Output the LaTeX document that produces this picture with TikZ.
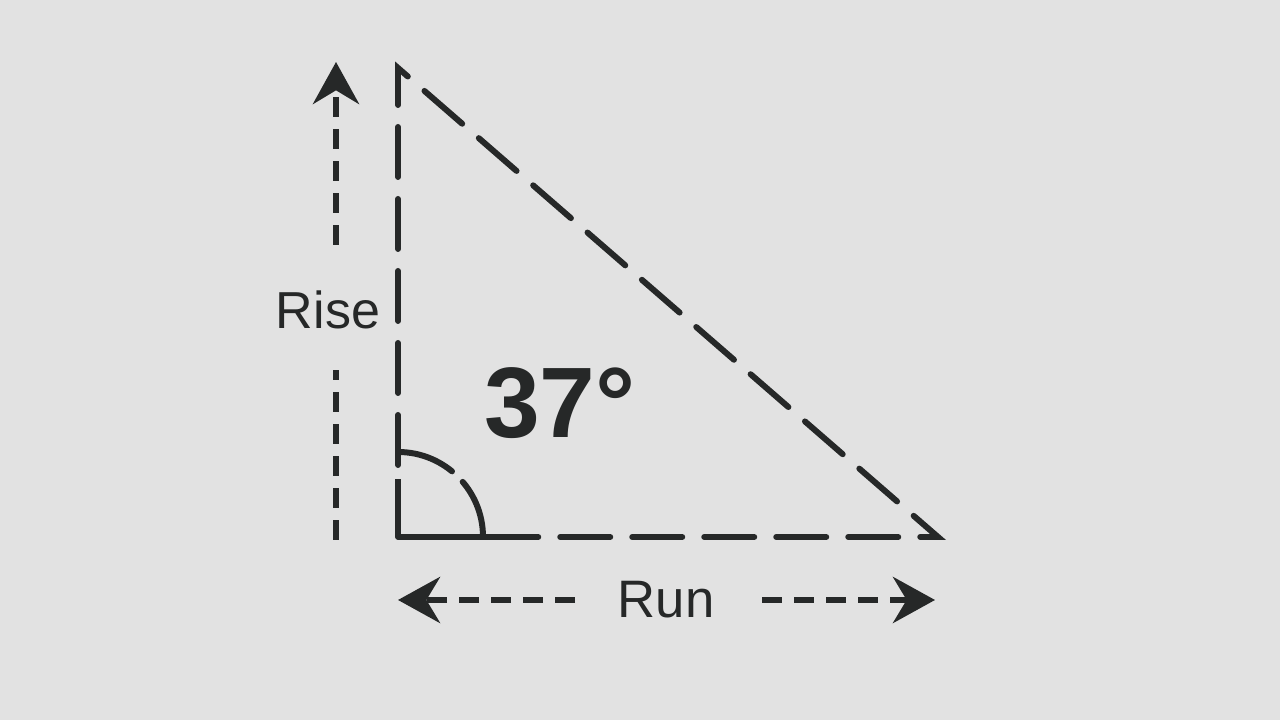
\documentclass[tikz,border=0pt]{standalone}
\usepackage{fontspec}
\setmainfont{Liberation Sans}
\usetikzlibrary{arrows.meta,positioning,calc}

\definecolor{paper}{HTML}{E2E2E2}
\definecolor{ink}{HTML}{262828}

\begin{document}
\begin{tikzpicture}[
side/.style={draw=ink, line width=1.7pt, line cap=round, dash pattern=on 0.5cm off 0.22cm},
guide/.style={draw=ink, line width=1.8pt, dash pattern=on 0.2cm off 0.12cm},
tip/.style={-{Stealth[length=0.42cm, width=0.46cm]}},
]
\fill[paper] (0,0) rectangle (12.8,7.2);
\coordinate (C) at (3.98,1.83);
\coordinate (A) at (3.98,6.52);
\coordinate (B) at (9.38,1.83);
\draw[side] (C) -- (A) -- (B) -- cycle;
\draw[ink, line width=1.7pt] (C) -- ++(0,0.58);
\draw[ink, line width=1.7pt] (C) -- ++(1.4,0);
\draw[side, dash pattern=on 0.6cm off 0.15cm] ($(C)+(0.85,0)$) arc (0:90:0.85);

\node[font=\bfseries\fontsize{28.5}{28.5}\selectfont, text=ink] (angle) at (5.6,3.17) {37°};

% rise
\node[font=\fontsize{14.8}{14.8}\selectfont, text=ink] (rise) at (3.28,4.1) {Rise};
\coordinate (r0) at (3.36,1.80);
\coordinate (r1) at (3.36,3.50);
\coordinate (r2) at (3.36,4.75);
\coordinate (r3) at (3.36,6.58);
\draw[guide] (r0) -- (r1);
\draw[guide, tip] (r2) -- (r3);

% run
\node[font=\fontsize{15}{15}\selectfont, text=ink] (run) at (6.66,1.2) {Run};
\coordinate (u0) at (5.75,1.2);
\coordinate (u1) at (3.98,1.2);
\coordinate (u2) at (7.62,1.2);
\coordinate (u3) at (9.35,1.2);
\draw[guide, tip] (u0) -- (u1);
\draw[guide, tip] (u2) -- (u3);
\end{tikzpicture}
\end{document}
